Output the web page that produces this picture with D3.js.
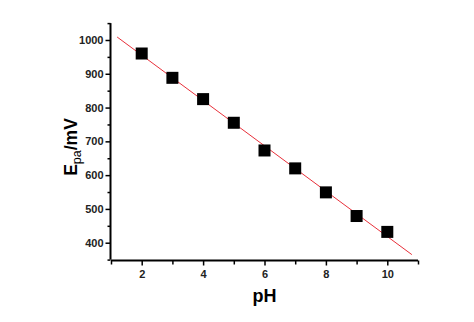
<!DOCTYPE html>
<html>
<head>
<meta charset="utf-8">
<script src="https://cdn.jsdelivr.net/npm/d3@7"></script>
<style>
  body { margin: 0; background: #fff; }
  svg { display: block; font-family: "Liberation Sans", Arial, sans-serif; }
</style>
</head>
<body>
<div id="chart-container"></div>
<script>
const pH = [2, 3, 4, 5, 6, 7, 8, 9, 10];
const epa = [960, 888, 825, 755, 673, 620, 549, 479, 432];
const fitRange = [1.2, 10.8];
const xTicks = [2, 4, 6, 8, 10];
const yTicks = [400, 500, 600, 700, 800, 900, 1000];

const W = 474, H = 322;
const svg = d3.select("#chart-container")
  .append("svg")
  .attr("width", W)
  .attr("height", H);

const x = d3.scaleLinear().domain([1, 11]).range([111, 418]);
const y = d3.scaleLinear().domain([350, 1050]).range([259.6, 23.1]);

// least squares fit
const mx = d3.mean(pH), my = d3.mean(epa);
const slope = d3.sum(pH, (v, i) => (v - mx) * (epa[i] - my)) / d3.sum(pH, v => (v - mx) ** 2);
const intercept = my - slope * mx;

// x axis
const xAxisY = 260.5;
const gx = svg.append("g").attr("transform", `translate(0,${xAxisY})`);
gx.call(d3.axisBottom(x).tickValues(d3.range(1, 12)).tickSize(5).tickFormat(d => xTicks.includes(d) ? d : ""))
  .call(g => g.select(".domain").attr("stroke-width", 2).attr("d", `M${x(1)},0H${x(11)}`))
  .call(g => g.selectAll(".tick line").attr("stroke-width", 1.5))
  .call(g => g.selectAll(".tick text").attr("font-size", 11).attr("font-weight", "bold").attr("fill", "#222").attr("dy", "0.9em"));

// y axis
const gy = svg.append("g").attr("transform", `translate(110.5,0)`);
gy.call(d3.axisLeft(y).tickValues(d3.range(350, 1051, 50)).tickSize(5).tickFormat(d => yTicks.includes(d) ? d : ""))
  .call(g => g.select(".domain").attr("stroke-width", 2).attr("d", `M0,${y(1050)}V${y(350)}`))
  .call(g => g.selectAll(".tick line").attr("stroke-width", 1.5)
    .attr("x2", d => yTicks.includes(d) ? -5 : -3))
  .call(g => g.selectAll(".tick text").attr("font-size", 11).attr("font-weight", "bold").attr("fill", "#222").attr("x", -7));

gx.selectAll(".tick line").attr("y2", d => xTicks.includes(d) ? 5 : 4);

// fit line
svg.append("line")
  .attr("x1", x(fitRange[0])).attr("y1", y(intercept + slope * fitRange[0]))
  .attr("x2", x(fitRange[1])).attr("y2", y(intercept + slope * fitRange[1]))
  .attr("stroke", "#e8303a")
  .attr("stroke-width", 1);

// points
const s = 12;
svg.append("g").selectAll("rect")
  .data(pH)
  .join("rect")
  .attr("x", (d) => x(d) - s / 2)
  .attr("y", (d, i) => y(epa[i]) - s / 2)
  .attr("width", s)
  .attr("height", s)
  .attr("fill", "#000");

// axis titles
svg.append("text")
  .attr("x", x(6)).attr("y", 302)
  .attr("text-anchor", "middle")
  .attr("font-size", 18).attr("font-weight", "bold")
  .text("pH");

const yl = svg.append("text")
  .attr("transform", "translate(77,147) rotate(-90)")
  .attr("text-anchor", "middle")
  .attr("font-size", 17.5).attr("font-weight", "bold");
yl.append("tspan").text("E");
yl.append("tspan").attr("font-size", 12.5).attr("font-weight", "normal").attr("dy", 4).text("pa");
yl.append("tspan").attr("dy", -4).text("/mV");
</script>
</body>
</html>
